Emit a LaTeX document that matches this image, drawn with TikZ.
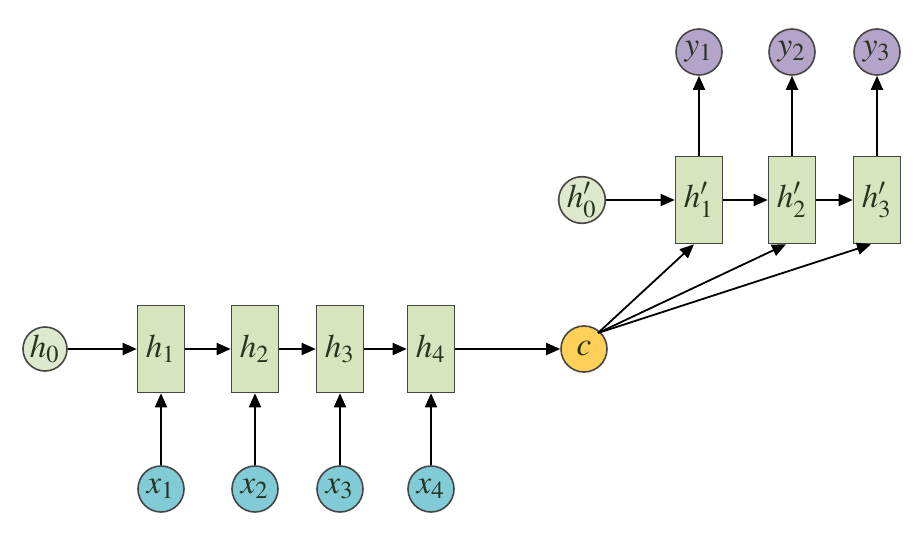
\documentclass[tikz,border=0pt]{standalone}
\usepackage{mathptmx}
\usetikzlibrary{arrows.meta}
\definecolor{boxfill}{RGB}{215,228,189}
\definecolor{hfill}{RGB}{222,232,204}
\definecolor{xfill}{RGB}{128,203,214}
\definecolor{yfill}{RGB}{180,164,202}
\definecolor{cfill}{RGB}{255,208,88}
\definecolor{edge}{RGB}{70,70,70}
\definecolor{ink}{RGB}{40,50,30}
\newcommand{\lblm}[1]{\scalebox{3.3}{$#1$}}
\begin{document}
\begin{tikzpicture}[x=1pt,y=-1pt,
  cell/.style={draw=edge,line width=1.6pt,fill=boxfill,minimum width=47pt,minimum height=87pt,inner sep=0pt,text=ink},
  ball/.style={circle,draw=edge,line width=1.6pt,minimum size=46pt,inner sep=0pt,text=ink},
  hball/.style={ball,fill=hfill,minimum size=44pt},
  xball/.style={ball,fill=xfill},
  yball/.style={ball,fill=yfill},
  cball/.style={ball,fill=cfill},
  arr/.style={line width=1.8pt,-{Triangle[length=14pt,width=12pt]}}]
\useasboundingbox (0,0) rectangle (914,538);
% encoder
\node[hball] (h0) at (45,349) {\lblm{h_0}};
\node[cell] (h1) at (161,349) {\lblm{h_1}};
\node[cell] (h2) at (255,349) {\lblm{h_2}};
\node[cell] (h3) at (340,349) {\lblm{h_3}};
\node[cell] (h4) at (431,349) {\lblm{h_4}};
\node[xball] (x1) at (161,489) {\lblm{x_1}};
\node[xball] (x2) at (255,489) {\lblm{x_2}};
\node[xball] (x3) at (340,489) {\lblm{x_3}};
\node[xball] (x4) at (431,489) {\lblm{x_4}};
\node[cball] (c) at (584,349) {\lblm{c}};
% decoder
\node[hball] (g0) at (582,200) {\lblm{h'_0}};
\node[cell] (g1) at (699,200) {\lblm{h'_1}};
\node[cell] (g2) at (792,200) {\lblm{h'_2}};
\node[cell] (g3) at (877,200) {\lblm{h'_3}};
\node[yball] (y1) at (699,52) {\lblm{y_1}};
\node[yball] (y2) at (792,52) {\lblm{y_2}};
\node[yball] (y3) at (877,52) {\lblm{y_3}};
% connectors
\draw[arr] (h0) -- (h1);
\draw[arr] (h1) -- (h2);
\draw[arr] (h2) -- (h3);
\draw[arr] (h3) -- (h4);
\draw[arr] (h4) -- (c);
\foreach \i in {1,2,3,4} \draw[arr] (x\i) -- (h\i);
\draw[arr] (g0) -- (g1);
\draw[arr] (g1) -- (g2);
\draw[arr] (g2) -- (g3);
\foreach \i in {1,2,3} \draw[arr] (g\i) -- (y\i);
\coordinate (cs) at (598,333);
\draw[arr] (cs) -- ([xshift=-5pt]g1.south);
\draw[arr] (cs) -- ([xshift=-6pt]g2.south);
\draw[arr] (cs) -- ([xshift=-6pt]g3.south);
\end{tikzpicture}
\end{document}
